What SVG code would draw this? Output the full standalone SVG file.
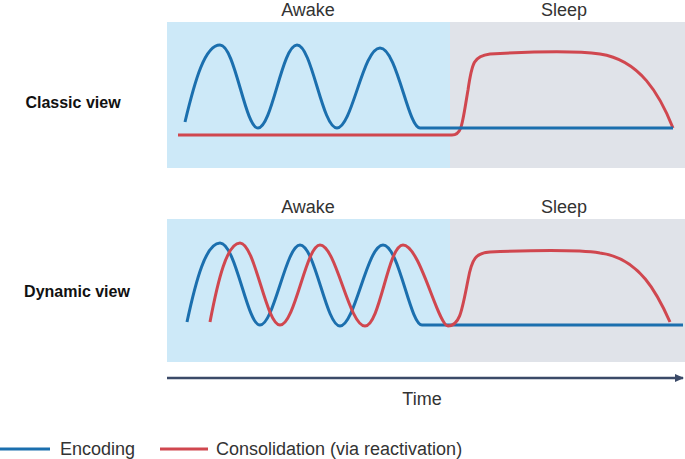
<svg xmlns="http://www.w3.org/2000/svg" width="685" height="459" viewBox="0 0 685 459">
<style>
.t{font-family:"Liberation Sans",Arial,sans-serif;font-size:18px;fill:#333;}
.b{font-family:"Liberation Sans",Arial,sans-serif;font-size:16px;font-weight:bold;fill:#111;}
.enc{fill:none;stroke:#1b6fae;stroke-width:3;stroke-linejoin:round}
.con{fill:none;stroke:#d0474f;stroke-width:3;stroke-linejoin:round}
</style>
<defs><marker id="ah" markerWidth="10" markerHeight="10" refX="8" refY="5" orient="auto" markerUnits="userSpaceOnUse"><path d="M0,1 L9,5 L0,9 Z" fill="#3b4a68"/></marker></defs>
<g id="classic">
<rect x="167" y="22" width="283" height="146" fill="#cde9f8"/>
<rect x="450" y="22" width="235" height="146" fill="#e0e3e9"/>
<text class="t" x="308" y="16" text-anchor="middle">Awake</text>
<text class="t" x="564" y="16" text-anchor="middle">Sleep</text>
<text class="b" x="73" y="108" text-anchor="middle">Classic view</text>
<path class="con" d="M178,135 L452,135 C462,135 462,125 468,90 C472,62 474,56 490,54 C540,51 580,51 600,54 C640,60 660,95 673,128"/>
<path class="enc" d="M185,122 C195,80 205,45 220,45 C235,45 245,128 258,128 C272,128 282,45 297,45 C312,45 322,128 337,128 C352,128 363,48 380,48 C397,48 408,128 420,128 L673,128"/>
</g>
<g id="dynamic">
<rect x="167" y="219" width="283" height="143" fill="#cde9f8"/>
<rect x="450" y="219" width="235" height="143" fill="#e0e3e9"/>
<text class="t" x="308" y="213" text-anchor="middle">Awake</text>
<text class="t" x="564" y="213" text-anchor="middle">Sleep</text>
<text class="b" x="77" y="297" text-anchor="middle">Dynamic view</text>
<path class="enc" d="M187,322 C196,280 206,243 220,243 C236,243 247,325 260,325 C274,325 286,245 300,245 C315,245 326,326 340,326 C355,326 367,245 383,245 C399,245 410,325 422,325 L683,325"/>
<path class="con" d="M210,322 C218,280 227,243 240,243 C255,243 266,325 280,325 C295,325 306,245 320,245 C336,245 349,326 365,326 C380,326 388,245 403,245 C420,245 438,326 448,326 C460,326 462,310 468,280 C472,258 476,253 490,252 C540,250 580,250 600,253 C640,258 658,295 670,322"/>
</g>
<g id="connectors">
<line x1="167" y1="378" x2="683" y2="378" stroke="#3b4a68" stroke-width="2.5" marker-end="url(#ah)"/>
</g>
<text class="t" x="422" y="405" text-anchor="middle">Time</text>
<g id="legend">
<line x1="0" y1="449" x2="50" y2="449" stroke="#1b6fae" stroke-width="3"/>
<text class="t" x="60" y="455">Encoding</text>
<line x1="160" y1="449" x2="208" y2="449" stroke="#d0474f" stroke-width="3"/>
<text class="t" x="216" y="455">Consolidation (via reactivation)</text>
</g>
</svg>
